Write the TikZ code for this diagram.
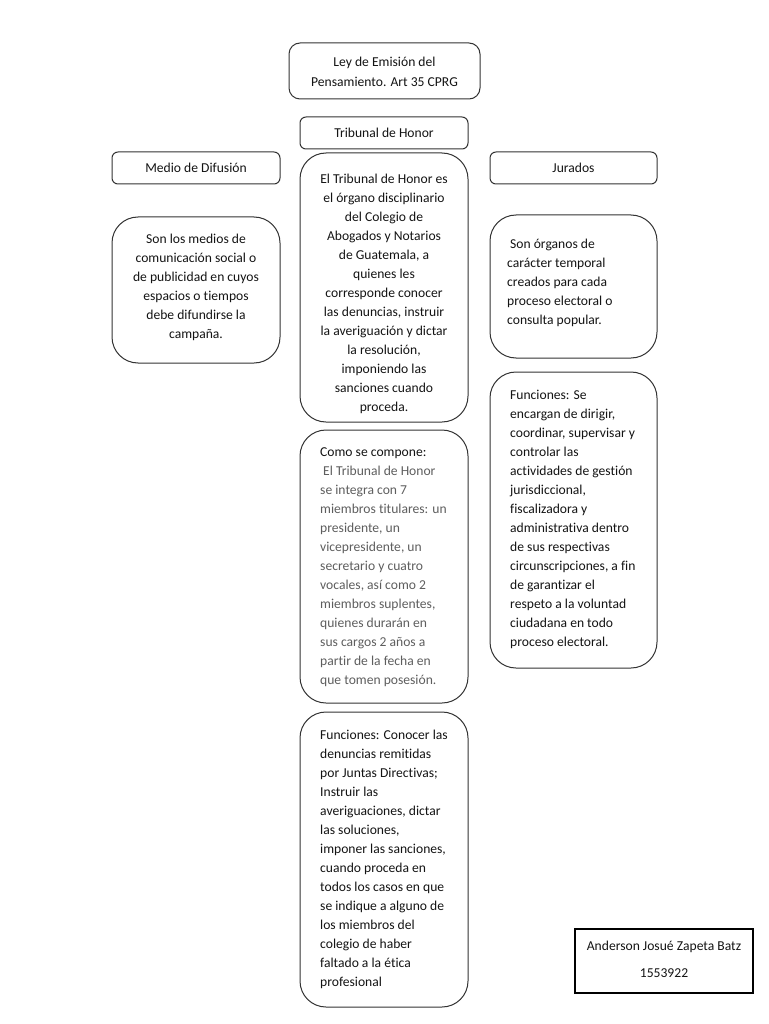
\documentclass[tikz,border=0pt]{standalone}
\usepackage{fontspec}
\setmainfont{Carlito}[Ligatures=NoCommon]
\definecolor{boxline}{HTML}{333333}
\definecolor{graytext}{HTML}{5E5E5E}
\tikzset{
  box/.style={draw=boxline, line width=1pt, inner sep=0pt},
  smallbox/.style={box, rounded corners=6pt},
  leybox/.style={box, rounded corners=11pt},
  bigbox/.style={box, rounded corners=26pt},
  authorbox/.style={draw=black, line width=1.6pt, inner sep=0pt},
  txt/.style={inner sep=0pt, text=black!92, font=\fontsize{13.6}{19}\selectfont},
  ctxt/.style={txt, align=center},
  ltxt/.style={txt, align=left, anchor=west},
}
\begin{document}
\begin{tikzpicture}[x=1pt,y=-1pt]
\useasboundingbox[fill=white] (0,0) rectangle (768,1024);
% boxes
\node[leybox, minimum width=191, minimum height=56] (ley) at (384.5,71) {};
\node[smallbox, minimum width=168, minimum height=32] (trib) at (384,133) {};
\node[smallbox, minimum width=168, minimum height=32] (medio) at (196,168) {};
\node[smallbox, minimum width=167, minimum height=32] (jur) at (573.5,168) {};
\node[bigbox, minimum width=168, minimum height=146] (medios) at (196,290) {};
\node[bigbox, minimum width=168, minimum height=269] (eltrib) at (384,287.5) {};
\node[bigbox, minimum width=167, minimum height=143] (organos) at (573.5,286.5) {};
\node[bigbox, minimum width=167, minimum height=296] (funcse) at (573.5,520) {};
\node[bigbox, minimum width=168, minimum height=273] (como) at (384,566.5) {};
\node[bigbox, minimum width=168, minimum height=295] (funccon) at (384,859.5) {};
\node[authorbox, minimum width=178, minimum height=64] (author) at (664,961) {};
% texts
\node[ctxt, font=\fontsize{13.6}{20}\selectfont] (leyt) at (384.5,72) {Ley de Emisión del\\Pensamiento. Art 35 CPRG};
\node[ctxt] (tribt) at (384,133) {Tribunal de Honor};
\node[ctxt] (mediot) at (196,168) {Medio de Difusión};
\node[ctxt] (jurt) at (573.5,168) {Jurados};
\node[ctxt] (mediost) at (196,287.5) {Son los medios de\\comunicación social o\\de publicidad en cuyos\\espacios o tiempos\\debe difundirse la\\campaña.};
\node[ctxt] (eltribt) at (384,294) {El Tribunal de Honor es\\el órgano disciplinario\\del Colegio de\\Abogados y Notarios\\de Guatemala, a\\quienes les\\corresponde conocer\\las denuncias, instruir\\la averiguación y dictar\\la resolución,\\imponiendo las\\sanciones cuando\\proceda.};
\node[ltxt] (organost) at (507,283) {\hspace*{0.22em}Son órganos de\\carácter temporal\\creados para cada\\proceso electoral o\\consulta popular.};
\node[ltxt] (funcset) at (510,519.5) {Funciones: Se\\encargan de dirigir,\\coordinar, supervisar y\\controlar las\\actividades de gestión\\jurisdiccional,\\fiscalizadora y\\administrativa dentro\\de sus respectivas\\circunscripciones, a fin\\de garantizar el\\respeto a la voluntad\\ciudadana en todo\\proceso electoral.};
\node[ltxt] (comot) at (320,567.5) {Como se compone:\\{\color{graytext}\hspace*{0.22em}El Tribunal de Honor}\\{\color{graytext}se integra con 7}\\{\color{graytext}miembros titulares: un}\\{\color{graytext}presidente, un}\\{\color{graytext}vicepresidente, un}\\{\color{graytext}secretario y cuatro}\\{\color{graytext}vocales, así como 2}\\{\color{graytext}miembros suplentes,}\\{\color{graytext}quienes durarán en}\\{\color{graytext}sus cargos 2 años a}\\{\color{graytext}partir de la fecha en}\\{\color{graytext}que tomen posesión.}};
\node[ltxt] (funccont) at (320,859.5) {Funciones: Conocer las\\denuncias remitidas\\por Juntas Directivas;\\Instruir las\\averiguaciones, dictar\\las soluciones,\\imponer las sanciones,\\cuando proceda en\\todos los casos en que\\se indique a alguno de\\los miembros del\\colegio de haber\\faltado a la ética\\profesional};
\node[ctxt, font=\fontsize{13.6}{27}\selectfont] (authort) at (664,959.5) {Anderson Josué Zapeta Batz\\1553922};
\end{tikzpicture}
\end{document}
